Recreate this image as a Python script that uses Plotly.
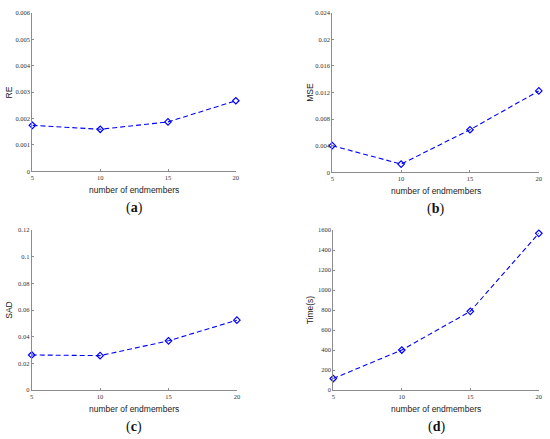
import plotly.graph_objects as go

# number of endmembers on the x axis
endmembers = [5, 10, 15, 20]

# values
re_vals = [0.00174, 0.00159, 0.00187, 0.00267]
mse_vals = [0.0040, 0.00123, 0.0064, 0.01225]
sad_vals = [0.0263, 0.0258, 0.0369, 0.0524]
time_vals = [115, 400, 787, 1567]

y_titles = ["RE", "MSE", "SAD", "Time(s)"]
y_maxes = [0.006, 0.024, 0.12, 1600]
y_dticks = [0.001, 0.004, 0.02, 200]
panel_labels = ["a", "b", "c", "d"]

# panel boxes in paper coords: (x0, x1, y0, y1)
boxes = [
    (0.0558, 0.429, 0.6128, 0.9795),
    (0.606, 0.985, 0.6105, 0.9795),
    (0.0545, 0.431, 0.1064, 0.4768),
    (0.6078, 0.985, 0.1064, 0.4768),
]

series = [re_vals, mse_vals, sad_vals, time_vals]

fig = go.Figure()
axis_col = "#8c8c8c"
tick_font = dict(family="Liberation Serif", size=6.5, color="#333333")
title_font = dict(family="Liberation Sans", size=8.5, color="#222222")

for i, vals in enumerate(series):
    n = "" if i == 0 else str(i + 1)
    fig.add_trace(go.Scatter(
        x=endmembers, y=vals, xaxis="x" + n, yaxis="y" + n,
        mode="lines+markers", showlegend=False, cliponaxis=False,
        line=dict(color="#0000ff", width=1.1, dash="5px,3px"),
        marker=dict(symbol="diamond-open", size=5, color="#0000ff",
                    line=dict(width=1.2, color="#0000ff")),
    ))
    x0, x1, y0, y1 = boxes[i]
    fig.layout["xaxis" + n] = dict(
        domain=[x0, x1], anchor="y" + n, range=[5, 20],
        tickvals=endmembers, ticks="inside", ticklen=2, tickcolor=axis_col,
        showline=True, linecolor=axis_col, linewidth=1, showgrid=False,
        zeroline=False, tickfont=tick_font,
    )
    fig.layout["yaxis" + n] = dict(
        domain=[y0, y1], anchor="x" + n, range=[0, y_maxes[i]],
        dtick=y_dticks[i], tick0=0, ticks="inside", ticklen=2, tickcolor=axis_col,
        showline=True, linecolor=axis_col, linewidth=1, showgrid=False,
        zeroline=False, tickfont=tick_font, tickformat="~g",
    )
    # axis titles
    fig.add_annotation(
        x=(x0 + x1) / 2, y=y0, xref="paper", yref="paper", yshift=-19,
        xanchor="center", yanchor="middle",
        text="number of endmembers", showarrow=False, font=title_font,
    )
    fig.add_annotation(
        x=x0, y=(y0 + y1) / 2, xref="paper", yref="paper", xshift=-23,
        xanchor="center", yanchor="middle",
        text=y_titles[i], textangle=-90, showarrow=False, font=title_font,
    )
    # panel label
    fig.add_annotation(
        x=(x0 + x1) / 2, y=y0, xref="paper", yref="paper", yshift=-37,
        xanchor="center", yanchor="middle",
        text="(<b>" + panel_labels[i] + "</b>)", showarrow=False,
        font=dict(family="Liberation Serif", size=14, color="#111111"),
    )

fig.update_layout(
    width=550, height=439,
    margin=dict(l=0, r=0, t=0, b=0),
    paper_bgcolor="white", plot_bgcolor="white",
)

# drop the page's default body margin so the figure sits at the window corner
fig.write_html("out.html", config={"displayModeBar": False},
               post_script="document.body.style.margin='0';")
